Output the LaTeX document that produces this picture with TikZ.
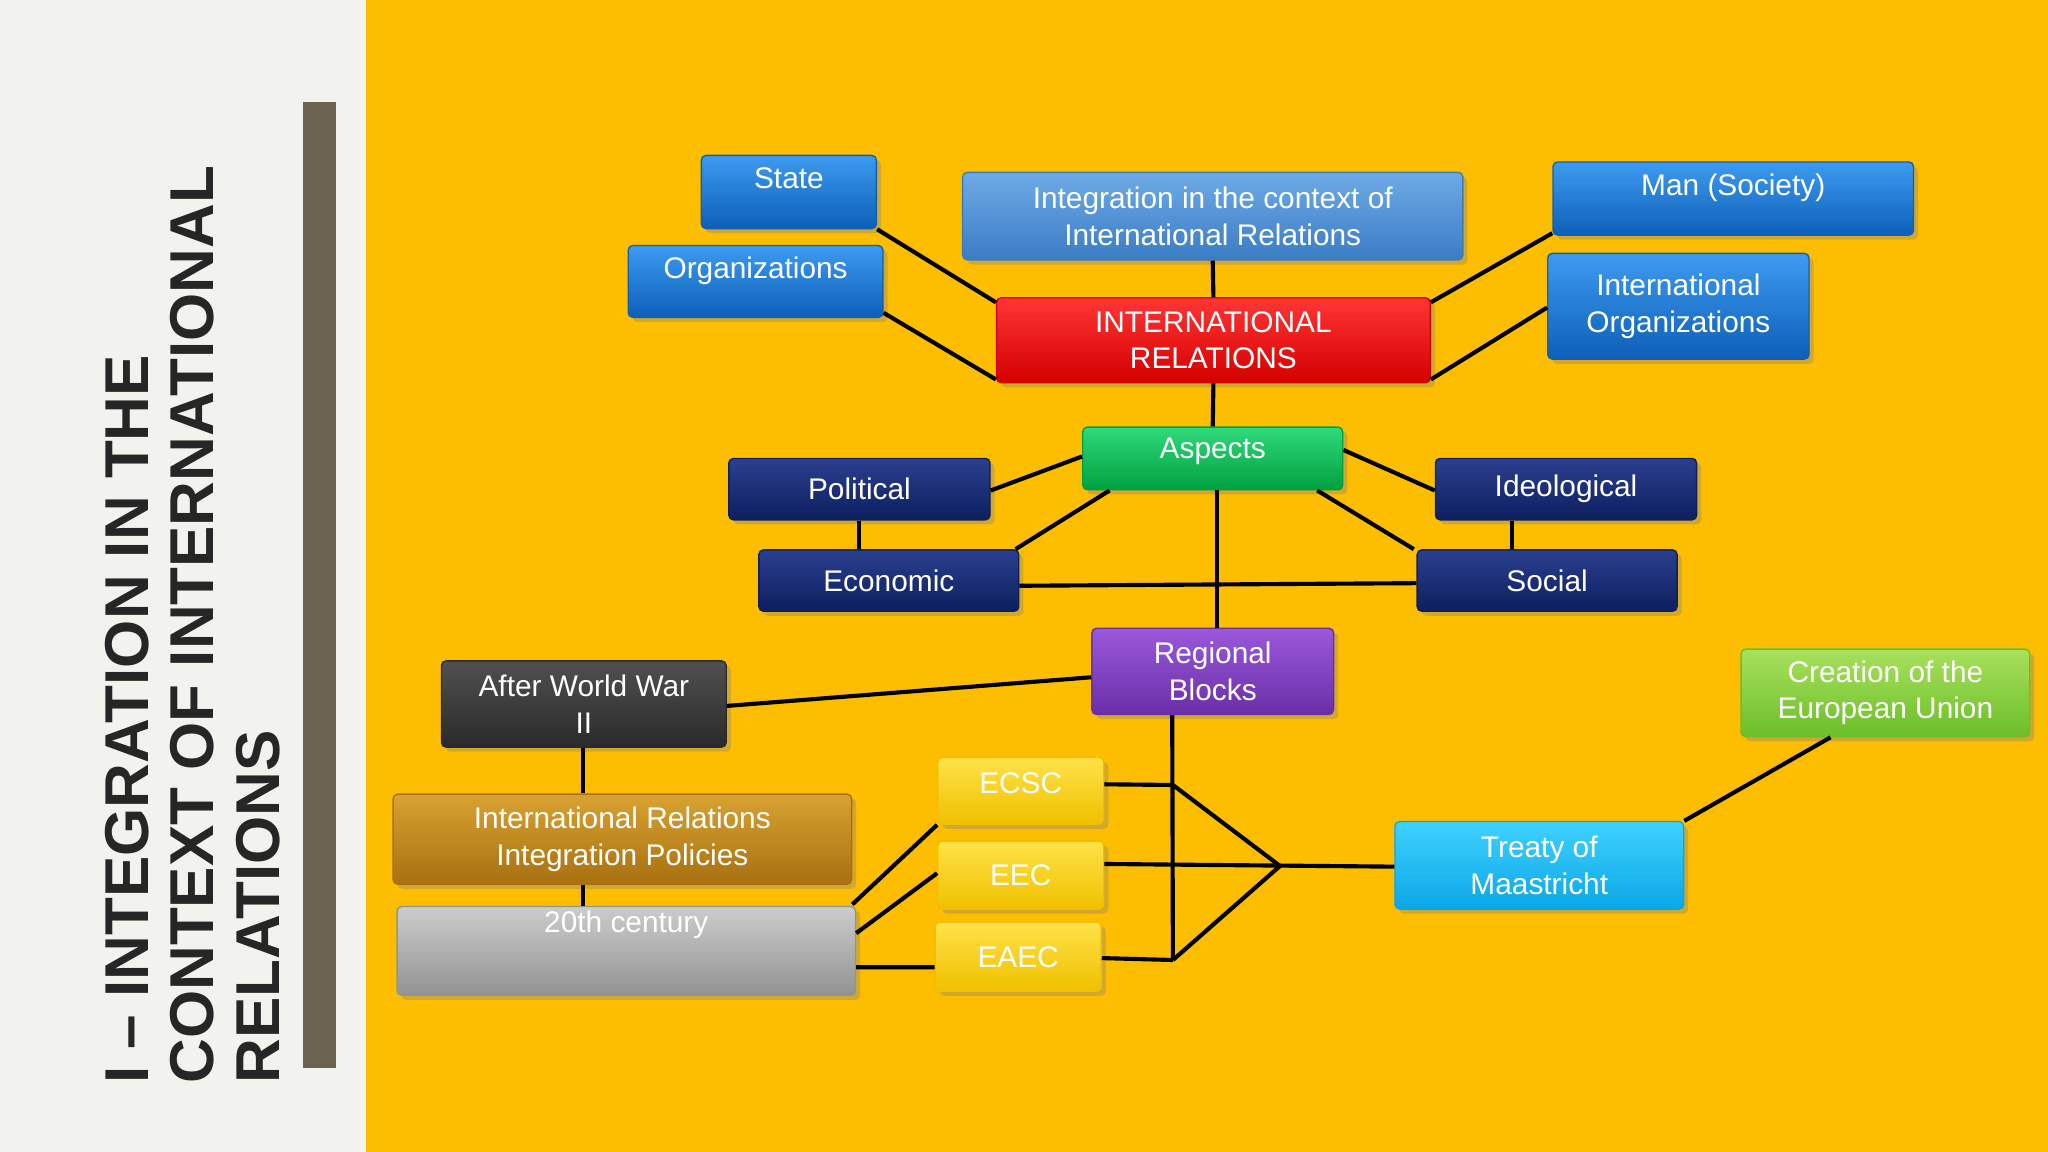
\documentclass[tikz,border=0pt]{standalone}
\usepackage{fontspec}
\setmainfont{Liberation Sans}
\usetikzlibrary{shadows}
\definecolor{leftgray}{HTML}{F2F2EE}
\definecolor{orangebg}{HTML}{FDBD00}
\definecolor{barc}{HTML}{6B6350}
\definecolor{blT}{HTML}{3D9BF0}\definecolor{blB}{HTML}{0D5FB8}
\definecolor{inT}{HTML}{6EAAE6}\definecolor{inB}{HTML}{3A7CC4}
\definecolor{reT}{HTML}{FF3535}\definecolor{reB}{HTML}{D40000}
\definecolor{grT}{HTML}{30DA7A}\definecolor{grB}{HTML}{00A040}
\definecolor{nvT}{HTML}{2A3F8F}\definecolor{nvB}{HTML}{0E1F5E}
\definecolor{puT}{HTML}{9A58DA}\definecolor{puB}{HTML}{6A2FA8}
\definecolor{dgT}{HTML}{505050}\definecolor{dgB}{HTML}{2A2A2A}
\definecolor{lgT}{HTML}{A8E05C}\definecolor{lgB}{HTML}{6CBE2A}
\definecolor{brT}{HTML}{D9A232}\definecolor{brB}{HTML}{A87010}
\definecolor{gyT}{HTML}{CCCCCC}\definecolor{gyB}{HTML}{929292}
\definecolor{ylT}{HTML}{FFE248}\definecolor{ylB}{HTML}{F0C000}
\definecolor{cyT}{HTML}{40D2FF}\definecolor{cyB}{HTML}{0AA6E6}
\tikzset{
  bx/.style 2 args={top color=#1, bottom color=#2, draw=#2, line width=0.6pt,
    rounded corners=2pt, drop shadow={opacity=0.35,shadow xshift=2pt,shadow yshift=-2pt},
    text=white, align=center, inner sep=0pt, font=\fontsize{13}{16}\selectfont},
  up/.style={text depth=#1},
  ln/.style={line width=1.8pt, black},
}
\newcommand\mybox[7]{\node[#6, minimum width={(#4-#2)*0.02cm}, minimum height={(#5-#3)*0.02cm}]
  (#1) at ({(#2+#4)/2},{-(#3+#5)/2}) {#7};}
\begin{document}
\begin{tikzpicture}[x=0.02cm,y=0.02cm]
\useasboundingbox (0,0) rectangle (1568,-882);
\fill[leftgray] (0,0) rectangle (280,-882);
\fill[orangebg] (280,0) rectangle (1568,-882);
\fill[barc] (232,-78) rectangle (257,-818);
\node[rotate=90, anchor=north west, inner sep=0pt, align=left,
  font=\fontsize{27}{28.5}\selectfont\bfseries, text=black!85] (title) at (80,-830)
  {I – INTEGRATION IN THE\\CONTEXT OF INTERNATIONAL\\RELATIONS};
% boxes
\mybox{state}{537}{119}{671}{175}{bx={blT}{blB},up=12pt}{State}
\mybox{integ}{737}{132}{1120}{199}{bx={inT}{inB}}{Integration in the context of\\International Relations}
\mybox{man}{1189}{124}{1465}{180}{bx={blT}{blB},up=12pt}{Man (Society)}
\mybox{orgs}{481}{188}{676}{243}{bx={blT}{blB},up=12pt}{Organizations}
\mybox{ir}{763}{228}{1095}{293}{bx={reT}{reB}}{INTERNATIONAL\\RELATIONS}
\mybox{intorg}{1185}{194}{1385}{275}{bx={blT}{blB}}{International\\Organizations}
\mybox{aspects}{829}{327}{1028}{375}{bx={grT}{grB},up=9pt}{Aspects}
\mybox{political}{558}{351}{758}{398}{bx={nvT}{nvB}}{Political}
\mybox{ideological}{1099}{351}{1299}{398}{bx={nvT}{nvB}}{Ideological}
\mybox{economic}{581}{421}{780}{468}{bx={nvT}{nvB}}{Economic}
\mybox{social}{1085}{421}{1284}{468}{bx={nvT}{nvB}}{Social}
\mybox{regional}{836}{481}{1021}{547}{bx={puT}{puB}}{Regional\\Blocks}
\mybox{aww}{338}{506}{556}{572}{bx={dgT}{dgB}}{After World War\\II}
\mybox{creation}{1333}{497}{1554}{564}{bx={lgT}{lgB}}{Creation of the\\European Union}
\mybox{irip}{301}{608}{652}{677}{bx={brT}{brB}}{International Relations\\Integration Policies}
\mybox{cent}{304}{694}{655}{762}{bx={gyT}{gyB},up=25pt}{20th century}
\mybox{ecsc}{718}{580}{845}{631}{bx={ylT}{ylB},up=7pt}{ECSC}
\mybox{eec}{718}{644}{845}{696}{bx={ylT}{ylB}}{EEC}
\mybox{eaec}{716}{706}{843}{759}{bx={ylT}{ylB}}{EAEC}
\mybox{treaty}{1068}{629}{1289}{696}{bx={cyT}{cyB}}{Treaty of\\Maastricht}
% connectors
\coordinate (j1) at (898,-601);
\coordinate (j2) at (898,-735);
\coordinate (j3) at (980,-663);
\begin{scope}[ln]
\draw (state.south east) -- ([yshift=-4*0.02cm]ir.north west);
\draw ([yshift=4*0.02cm]orgs.south east) -- ([yshift=3*0.02cm]ir.south west);
\draw (integ.south) -- (ir.north);
\draw ([yshift=2*0.02cm]man.south west) -- ([yshift=-4*0.02cm]ir.north east);
\draw ([yshift=-42*0.02cm]intorg.north west) -- ([yshift=3*0.02cm]ir.south east);
\draw (ir.south) -- (aspects.north);
\draw ([yshift=23*0.02cm]political.south east) -- ([yshift=-23*0.02cm]aspects.north west);
\draw ([xshift=21*0.02cm]aspects.south west) -- ([xshift=-3*0.02cm]economic.north east);
\draw ([yshift=-18*0.02cm]aspects.north east) -- ([yshift=23*0.02cm]ideological.south west);
\draw ([xshift=-20*0.02cm]aspects.south east) -- ([xshift=-2*0.02cm]social.north west);
\draw ([xshift=100*0.02cm]political.south west) -- ([xshift=77*0.02cm]economic.north west);
\draw ([xshift=59*0.02cm]ideological.south west) -- ([xshift=73*0.02cm]social.north west);
\draw ([yshift=-28*0.02cm]economic.north east) -- ([yshift=-26*0.02cm]social.north west);
\draw ([xshift=3*0.02cm]aspects.south) -- ([xshift=3*0.02cm]regional.north);
\draw ([yshift=-35*0.02cm]aww.north east) -- ([yshift=29*0.02cm]regional.south west);
\draw ([xshift=109*0.02cm]aww.south west) -- ([xshift=146*0.02cm]irip.north west);
\draw ([xshift=146*0.02cm]irip.south west) -- ([xshift=143*0.02cm]cent.north west);
\draw ([xshift=-3*0.02cm,yshift=1*0.02cm]cent.north east) -- (ecsc.south west);
\draw ([yshift=-21*0.02cm]cent.north east) -- ([yshift=28*0.02cm]eec.south west);
\draw ([yshift=22*0.02cm]cent.south east) -- ([yshift=19*0.02cm]eaec.south west);
\draw ([xshift=62*0.02cm]regional.south west) -- (j2);
\draw ([yshift=26*0.02cm]eaec.south east) -- (j2);
\draw ([yshift=-21*0.02cm]ecsc.north east) -- (j1);
\draw ([yshift=-18*0.02cm]eec.north east) -- ([yshift=33*0.02cm]treaty.south west);
\draw (j1) -- (j3) -- (j2);
\draw (treaty.north east) -- ([xshift=69*0.02cm]creation.south west);
\end{scope}
\end{tikzpicture}
\end{document}
